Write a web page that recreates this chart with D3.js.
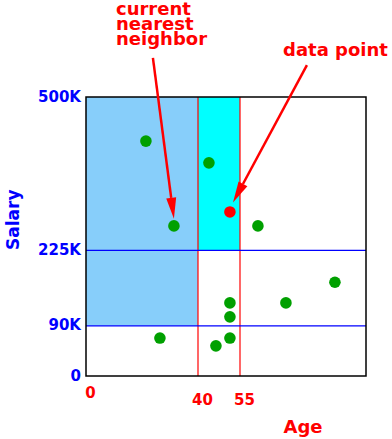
<!DOCTYPE html>
<html>
<head>
<meta charset="utf-8">
<script src="https://cdn.jsdelivr.net/npm/d3@7"></script>
<style>
  body { margin: 0; background: #fff; }
  text { font-family: "DejaVu Sans", sans-serif; font-weight: bold; }
</style>
</head>
<body>
<svg id="svg"></svg>
<script>
var width = 392;
var height = 439;

// points: [age, salary in K]
const ages     = [21.4, 43.9, 31.4, 61.4, 88.9, 71.4, 51.4, 51.4, 51.4, 46.4, 26.4];
const salaries = [421,  382,  269,  269,  168,  131,  131,  106,  68,   54,   68];
const queryPoint = [51.4, 294];

const ageSplits = [40, 55];
const salarySplits = [225, 90];
const ageTicks = [0, 40, 55];
const salaryTicks = [0, 90, 225, 500];
const salaryTickLabels = ["0", "90K", "225K", "500K"];

// shaded cells: [age0, age1, sal0, sal1]
const regions = [
  {a0: 0, a1: 40, s0: 90, s1: 500, fill: "#87cefa"},
  {a0: 40, a1: 55, s0: 225, s1: 500, fill: "#00ffff"}
];

// annotation arrows in data units: from label to point
const arrows = [
  {from: [23.9, 570], to: [31.4, 282]},
  {from: [78.9, 557], to: [52.5, 311]}
];

var svg = d3.select("#svg")
    .attr("width", width)
    .attr("height", height);

var x = d3.scaleLinear().domain([0, 100]).range([86, 366]);
var y = d3.scaleLinear().domain([0, 500]).range([376, 97]);

// shaded regions
svg.append("g").selectAll("rect")
  .data(regions)
  .join("rect")
    .attr("x", d => x(d.a0))
    .attr("y", d => y(d.s1))
    .attr("width", d => x(d.a1) - x(d.a0))
    .attr("height", d => y(d.s0) - y(d.s1))
    .attr("fill", d => d.fill);

// split lines
svg.append("g").selectAll("line")
  .data(ageSplits)
  .join("line")
    .attr("x1", d => x(d)).attr("x2", d => x(d))
    .attr("y1", y(0)).attr("y2", y(500))
    .attr("stroke", "red")
    .attr("stroke-width", 1.2);

svg.append("g").selectAll("line")
  .data(salarySplits)
  .join("line")
    .attr("x1", x(0)).attr("x2", x(100))
    .attr("y1", d => y(d)).attr("y2", d => y(d))
    .attr("stroke", "blue")
    .attr("stroke-width", 1.2);

// frame
svg.append("rect")
    .attr("x", x(0)).attr("y", y(500))
    .attr("width", x(100) - x(0))
    .attr("height", y(0) - y(500))
    .attr("fill", "none")
    .attr("stroke", "black")
    .attr("stroke-width", 1.5);

// points
svg.append("g").selectAll("circle")
  .data(ages.map((a, i) => [a, salaries[i]]))
  .join("circle")
    .attr("cx", d => x(d[0]))
    .attr("cy", d => y(d[1]))
    .attr("r", 5.8)
    .attr("fill", "#00a000");

svg.append("circle")
    .attr("cx", x(queryPoint[0]))
    .attr("cy", y(queryPoint[1]))
    .attr("r", 5.8)
    .attr("fill", "red");

// arrows
arrows.forEach(a => {
  var x1 = x(a.from[0]), y1 = y(a.from[1]);
  var x2 = x(a.to[0]), y2 = y(a.to[1]);
  var ang = Math.atan2(y2 - y1, x2 - x1);
  var len = 21, half = 5;
  var bx = x2 - len * Math.cos(ang), by = y2 - len * Math.sin(ang);
  svg.append("line")
      .attr("x1", x1).attr("y1", y1)
      .attr("x2", bx).attr("y2", by)
      .attr("stroke", "red")
      .attr("stroke-width", 2.5);
  svg.append("polygon")
      .attr("points", [
        [x2, y2],
        [bx + half * Math.sin(ang), by - half * Math.cos(ang)],
        [bx - half * Math.sin(ang), by + half * Math.cos(ang)]
      ].map(p => p.join(",")).join(" "))
      .attr("fill", "red");
});

// annotation text
svg.append("text")
    .attr("x", 116).attr("y", 15)
    .attr("fill", "red")
    .attr("font-size", 18)
  .selectAll("tspan")
  .data(["current", "nearest", "neighbor"])
  .join("tspan")
    .attr("x", 116)
    .attr("dy", (d, i) => i ? 15 : 0)
    .text(d => d);

svg.append("text")
    .attr("x", 283).attr("y", 56)
    .attr("fill", "red")
    .attr("font-size", 18)
    .text("data point");

// salary tick labels
svg.append("g").selectAll("text")
  .data(salaryTicks)
  .join("text")
    .attr("x", 81)
    .attr("y", d => y(d))
    .attr("dy", "0.3em")
    .attr("text-anchor", "end")
    .attr("fill", "blue")
    .attr("font-size", 15)
    .text((d, i) => salaryTickLabels[i]);

// age tick labels
svg.append("g").selectAll("text")
  .data(ageTicks)
  .join("text")
    .attr("x", d => x(d) + 4.5)
    .attr("y", d => d === 0 ? 398 : 405)
    .attr("text-anchor", "middle")
    .attr("fill", "red")
    .attr("font-size", 15)
    .text(d => d);

// axis titles
svg.append("text")
    .attr("transform", "translate(19," + y(280) + ") rotate(-90)")
    .attr("text-anchor", "middle")
    .attr("fill", "blue")
    .attr("font-size", 17)
    .text("Salary");

svg.append("text")
    .attr("x", x(77.5))
    .attr("y", 433)
    .attr("text-anchor", "middle")
    .attr("fill", "red")
    .attr("font-size", 18)
    .text("Age");
</script>
</body>
</html>
